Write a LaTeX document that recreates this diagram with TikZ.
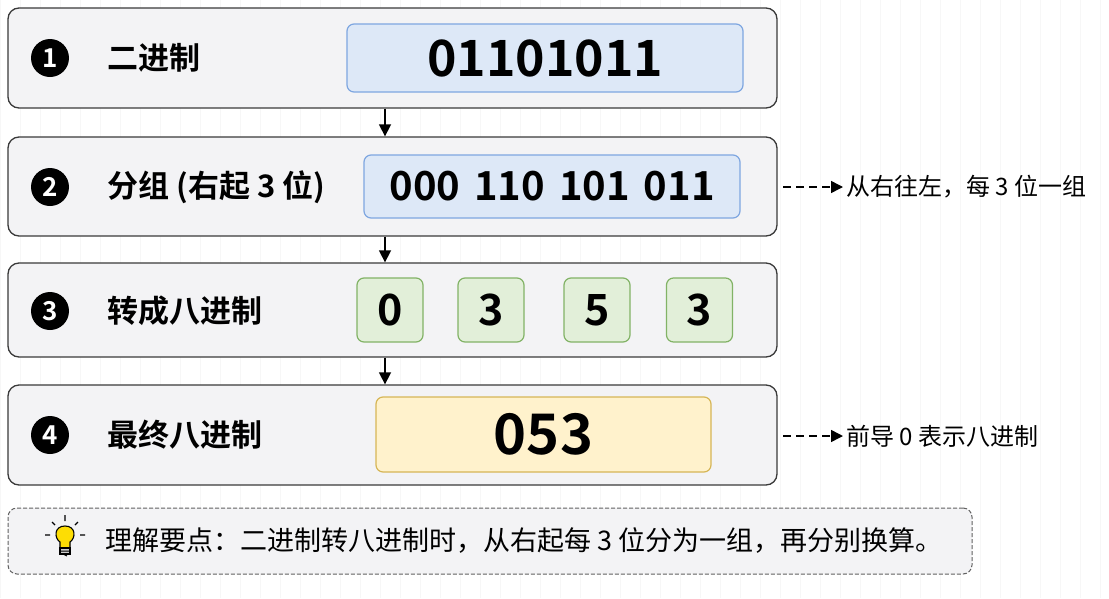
\documentclass[tikz,border=0pt]{standalone}
\usepackage{fontspec}
\setmainfont{Noto Sans CJK SC}[BoldFont={* Bold}]
\usetikzlibrary{arrows.meta}
\definecolor{panel}{HTML}{F3F3F5}
\definecolor{edge}{HTML}{3A3A3A}
\definecolor{bfill}{HTML}{DDE8F7}\definecolor{bline}{HTML}{7EA6E0}
\definecolor{gfill}{HTML}{E2EFD9}\definecolor{gline}{HTML}{82B366}
\definecolor{yfill}{HTML}{FFF2CC}\definecolor{yline}{HTML}{D6B656}
\begin{document}
\begin{tikzpicture}[x=1pt,y=-1pt,
 panel/.style={draw=edge,fill=panel,line width=1.3pt,rounded corners=11pt},
 num/.style={circle,fill=black,minimum size=38pt,inner sep=0,text=white,font=\fontsize{26}{26}\selectfont\bfseries},
 lab/.style={anchor=west,font=\fontsize{31}{31}\selectfont\bfseries},
 bbox/.style={draw=bline,fill=bfill,line width=1.2pt,rounded corners=7pt},
 gbox/.style={draw=gline,fill=gfill,line width=1.2pt,rounded corners=7pt,minimum width=66pt,minimum height=64pt,font=\fontsize{43}{43}\selectfont\bfseries},
 ybox/.style={draw=yline,fill=yfill,line width=1.2pt,rounded corners=7pt},
 arr/.style={-{Triangle[length=12pt,width=12pt]},line width=1.5pt,draw=black},
 darr/.style={-{Triangle[length=12pt,width=12pt]},line width=1.5pt,dash pattern=on 8pt off 5pt},
 note/.style={anchor=west,font=\fontsize{24}{24}\selectfont}]
\useasboundingbox (0,0) rectangle (1109,598);
\fill[white] (0,0) rectangle (1109,598);
\draw[black!3,line width=0.5pt,step=20] (0,0) grid (1109,598);
% row 1
\node[panel,minimum width=769pt,minimum height=100pt,inner sep=0] (r1) at (392.5,58) {};
\node[num] (n1) at (50,58) {1};
\node[lab] (l1) at (104,58) {二进制};
\node[bbox,minimum width=396pt,minimum height=68pt,font=\fontsize{50}{50}\selectfont\bfseries] (v1) at (545,58) {01101011};
% row 2
\node[panel,minimum width=769pt,minimum height=99pt,inner sep=0] (r2) at (392.5,186.5) {};
\node[num] (n2) at (50,187) {2};
\node[lab] (l2) at (104,187) {分组 (右起 3 位)};
\node[bbox,minimum width=376pt,minimum height=63pt,font=\fontsize{40}{40}\selectfont\bfseries] (v2) at (552,186.5) {000\hspace{14pt}110\hspace{14pt}101\hspace{14pt}011};
% row 3
\node[panel,minimum width=769pt,minimum height=94pt,inner sep=0] (r3) at (392.5,310) {};
\node[num] (n3) at (50,311) {3};
\node[lab] (l3) at (104,311) {转成八进制};
\node[gbox] (g1) at (390,310) {0};
\node[gbox] (g2) at (491,310) {3};
\node[gbox] (g3) at (597,310) {5};
\node[gbox] (g4) at (699.5,310) {3};
% row 4
\node[panel,minimum width=769pt,minimum height=100pt,inner sep=0] (r4) at (392.5,435) {};
\node[num] (n4) at (50,435) {4};
\node[lab] (l4) at (104,435) {最终八进制};
\node[ybox,minimum width=335pt,minimum height=75pt,font=\fontsize{56}{56}\selectfont\bfseries] (v4) at (543.5,434.5) {053};
% connectors
\draw[arr] (r1.south -| 385,0) -- (r2.north -| 385,0);
\draw[arr] (r2.south -| 385,0) -- (r3.north -| 385,0);
\draw[arr] (r3.south -| 385,0) -- (r4.north -| 385,0);
% notes
\coordinate (c2) at (783,187);
\node[note] (t2) at (843,187) {从右往左，每 3 位一组};
\draw[darr] (c2) -- (t2.west);
\coordinate (c4) at (783,436);
\node[note] (t4) at (843,436) {前导 0 表示八进制};
\draw[darr] (c4) -- (t4.west);
% bottom tip
\node[draw=edge!80,fill=panel,line width=1pt,dash pattern=on 4pt off 2pt,rounded corners=9pt,minimum width=964pt,minimum height=66pt,inner sep=0] (tip) at (490,541) {};
\begin{scope}[shift={(65,539)}]
 \fill[yellow!80!orange,draw=black,line width=1.1pt] (-5,9) -- (-5,3) .. controls (-11,-1) and (-11,-13) .. (0,-13) .. controls (11,-13) and (11,-1) .. (5,3) -- (5,9) -- cycle;
 \draw[fill=gray!40,line width=1.1pt] (-5,9) rectangle (5,15);
 \draw[line width=1pt] (-5,12) -- (5,12) (-2,15) -- (2,17);
 \draw[line width=1.2pt] (-20,-4) -- (-15,-4) (15,-4) -- (20,-4) (0,-24) -- (0,-18) (-13,-17) -- (-10,-14) (13,-17) -- (10,-14);
\end{scope}
\node[anchor=west,font=\fontsize{27}{27}\selectfont] (tt) at (102,541) {理解要点：二进制转八进制时，从右起每 3 位分为一组，再分别换算。};
\end{tikzpicture}
\end{document}
